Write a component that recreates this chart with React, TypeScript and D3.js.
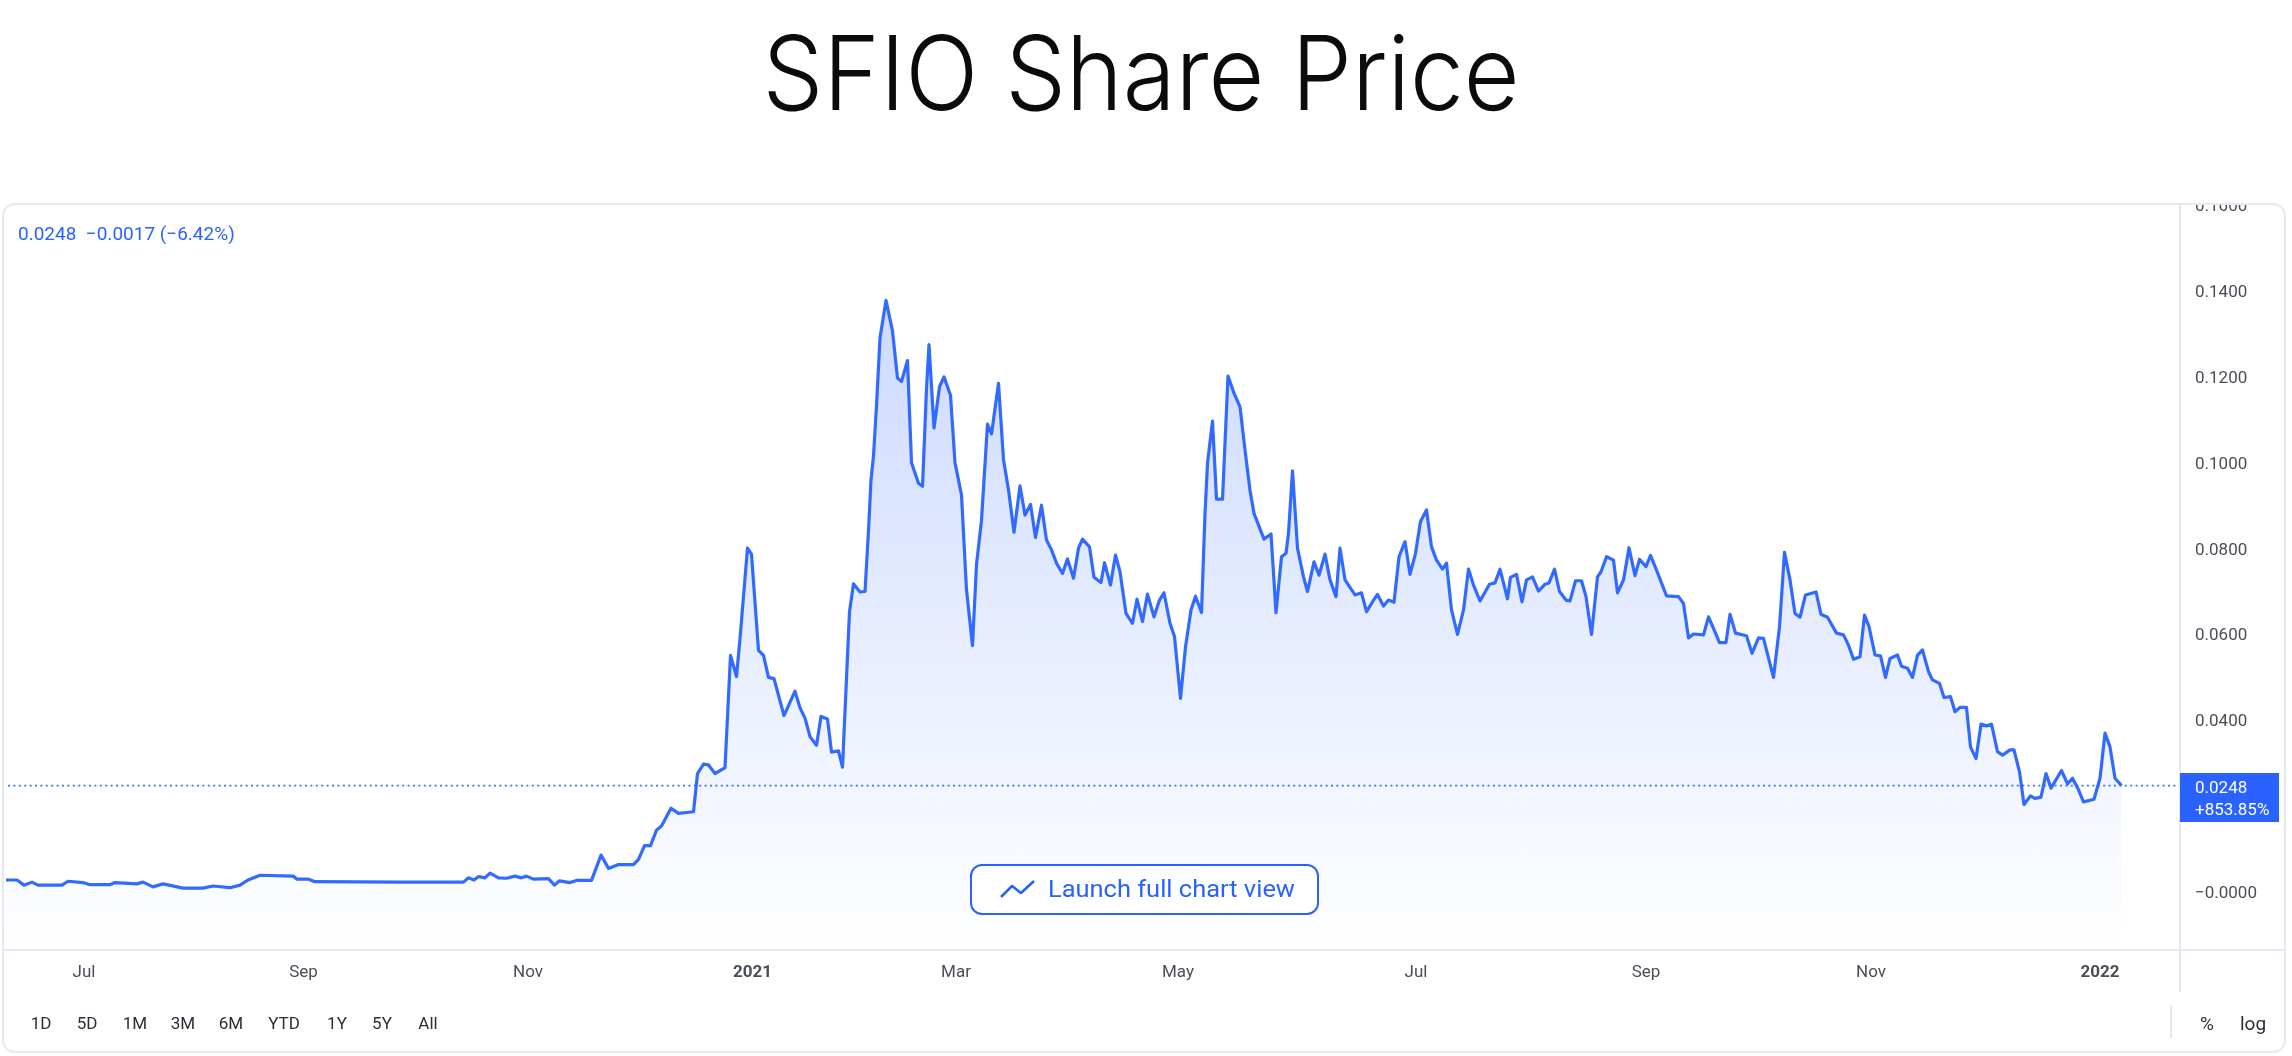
import * as d3 from 'd3'

// Time position of each reading, in chart steps along the axis
const times = [
  0, 2.2, 3.6, 5.2, 6.4, 11.2, 12.4, 15.4, 16.8, 20.8, 21.8, 26.2, 27.4, 29.4, 31.4, 35.4, 39.4, 41.4, 44.8, 46.8, 48.4, 50.8, 57.4, 58.2, 60.4, 61.8,
  78.8, 91.5, 92.5, 93.6, 94.5, 95.8, 96.8, 98.5, 100.1, 101.8, 103.1, 104.1, 105.5, 108.5, 109.7, 110.7, 112.8, 114.1, 117.1, 119, 120.5, 122.5, 125.5, 126.5, 127.7, 128.9, 130.1, 131.1, 133, 134.5, 137.5, 138.3, 139.5, 140.5, 141.8, 143.8,
  144.9, 146.1, 146.8, 148.3, 149.1, 150.5, 151.5, 152.5, 153.6, 155.6, 157.8, 158.8, 159.8, 160.8, 162.1, 163, 164.3, 165.1, 166.5, 167.3, 168.7, 169.5, 170.8, 171.8, 172.5, 173, 173.5, 174.1, 174.8, 176, 177.3, 178.3, 179.1, 180.3, 181.1, 182.5, 183.3, 184.1, 184.6, 185.6, 186.7, 187.6, 188.9, 189.8, 191.1, 192.1, 193.3, 194.1, 195.1, 196.3, 197.1, 198.5, 199.5, 200.5, 201.6, 202.8, 203.8, 204.9, 205.9, 207.1,
  208.1, 209.1, 210.1, 211.3, 212.3, 213.5, 214.5, 215.3, 216.7, 217.6, 219, 219.7, 220.9, 221.9, 222.8, 224, 225.3, 226.2, 227.3, 228.3, 229.6, 230.7, 231.6, 232.8, 233.7, 234.9, 235.9, 237, 237.9, 239.1, 239.8, 240.3, 241.3, 242.1, 243.3, 244.4, 245.6, 246.8, 247.8, 248.8, 249.6, 251.6, 253, 254, 255.1, 256, 256.5, 257.3, 258.3, 259.5, 260.3, 261.6, 262.6, 263.8, 264.8, 266, 266.8, 267.8, 269.8, 271.1, 272.1, 273.5, 274.3, 275.5, 276.5, 277.6, 278.6, 279.8, 280.8, 281.9, 282.9, 284.1, 285.1,
  286.1, 287.3, 288.1, 289.1, 290.3, 291.5, 292.5, 293.5, 294.8, 296.7, 297.8, 298.8, 300.3, 300.9, 302.1, 303.2, 304.1, 305.3, 306.5, 307.8, 308.6, 309.7, 310.7, 312, 312.8, 313.9, 315.1, 316, 317.1, 318.3, 319, 320.1, 321.5, 322.3, 323.5, 324.6, 325.8, 326.7, 328, 328.9, 330.1, 332.1, 334.5, 335.5, 336.5, 337.5, 339.5, 340.5, 341.5, 342.7, 344, 344.8, 345.9, 348.1, 349.2, 350.5, 351.5, 353.5, 354.7, 355.7, 356.8, 357.8, 358.8, 359.9, 362, 363,
  364.3, 366.1, 367.5, 368.5, 369.5, 370.8, 371.7, 372.6, 373.8, 374.9, 375.9, 376.8, 378.3, 379.1, 380.3, 381.3, 382.3, 383.3, 384.5, 385.3, 386.7, 387.6, 388.9, 389.8, 390.8, 392.1, 392.9, 394, 395, 396.1, 397.1, 398.3, 399.3, 400.8, 401.6, 402.7, 403.6, 404.5, 404.9, 405.8, 407, 408, 409, 411.1, 412.3, 413.3, 414.5, 415.5, 417.6, 418.8, 419.8, 420.8, 421.8, 423.1,
]

const prices = [
  0.0028, 0.0028, 0.0016, 0.0023, 0.0016, 0.0016, 0.0025, 0.0022, 0.0017, 0.0017, 0.0022, 0.0019, 0.0023, 0.0012, 0.0019, 0.0009, 0.0009, 0.0014, 0.001, 0.0016, 0.0028, 0.0039, 0.0037, 0.003, 0.003, 0.0024,
  0.0023, 0.0023, 0.0033, 0.0028, 0.0036, 0.0033, 0.0044, 0.0033, 0.0032, 0.0037, 0.0033, 0.0037, 0.003, 0.0031, 0.0016, 0.0026, 0.0022, 0.0027, 0.0027, 0.0086, 0.0055, 0.0064, 0.0064, 0.0076, 0.0108, 0.0108, 0.0144, 0.0154, 0.0195, 0.0183, 0.0187, 0.0276, 0.0298, 0.0296, 0.0276, 0.029,
  0.0551, 0.0502, 0.059, 0.0801, 0.0787, 0.0563, 0.0551, 0.05, 0.0497, 0.0411, 0.0468, 0.0429, 0.0405, 0.0362, 0.0342, 0.0409, 0.0403, 0.0326, 0.0329, 0.0291, 0.0653, 0.0718, 0.0699, 0.07, 0.0842, 0.096, 0.1016, 0.1133, 0.1291, 0.1378, 0.1307, 0.1197, 0.1189, 0.1238, 0.1, 0.0952, 0.0945, 0.1173, 0.1275, 0.1081, 0.1177, 0.12, 0.1157, 0.1, 0.0925, 0.0704, 0.0574, 0.0763, 0.0866, 0.109, 0.1067, 0.1185, 0.1007, 0.0937, 0.0838, 0.0946, 0.0878, 0.0903, 0.0826, 0.0901,
  0.082, 0.0797, 0.0766, 0.0742, 0.0776, 0.0731, 0.0801, 0.0822, 0.0804, 0.0733, 0.0721, 0.0767, 0.0715, 0.0785, 0.0746, 0.0649, 0.0626, 0.0682, 0.063, 0.0694, 0.0641, 0.068, 0.0697, 0.0626, 0.0595, 0.0451, 0.0571, 0.0657, 0.0689, 0.0651, 0.0882, 0.0999, 0.1097, 0.0915, 0.0915, 0.1202, 0.1162, 0.113, 0.103, 0.0936, 0.0882, 0.0822, 0.0834, 0.0651, 0.0781, 0.0789, 0.0836, 0.0981, 0.0801, 0.0734, 0.07, 0.0769, 0.0738, 0.0787, 0.0727, 0.0688, 0.0801, 0.0727, 0.0692, 0.0697, 0.0653, 0.068, 0.0693, 0.0666, 0.068, 0.0675, 0.0781, 0.0816, 0.074, 0.0789, 0.0863, 0.089, 0.0804,
  0.0773, 0.0752, 0.0766, 0.0657, 0.06, 0.0657, 0.0752, 0.0715, 0.0678, 0.0717, 0.072, 0.0752, 0.0683, 0.0733, 0.074, 0.0676, 0.0727, 0.0734, 0.0701, 0.0717, 0.072, 0.0752, 0.07, 0.068, 0.0678, 0.0725, 0.0725, 0.0688, 0.06, 0.0734, 0.0746, 0.0781, 0.0773, 0.0697, 0.0727, 0.0802, 0.0737, 0.0775, 0.0758, 0.0784, 0.075, 0.069, 0.0688, 0.0672, 0.0592, 0.0601, 0.0599, 0.0641, 0.0614, 0.0581, 0.0581, 0.0647, 0.0603, 0.0597, 0.0556, 0.0592, 0.0591, 0.05, 0.0618, 0.0791, 0.0727, 0.0649, 0.064, 0.0692, 0.0699, 0.0647,
  0.064, 0.0603, 0.0599, 0.0575, 0.0542, 0.0548, 0.0645, 0.0618, 0.0552, 0.055, 0.05, 0.0544, 0.0552, 0.0526, 0.0521, 0.05, 0.0552, 0.0564, 0.0513, 0.0494, 0.0486, 0.0453, 0.0455, 0.042, 0.043, 0.043, 0.0338, 0.0311, 0.0391, 0.0387, 0.0391, 0.0327, 0.0319, 0.0331, 0.0331, 0.028, 0.0204, 0.0218, 0.0224, 0.0218, 0.0221, 0.0276, 0.0242, 0.0283, 0.0252, 0.0265, 0.0238, 0.021, 0.0216, 0.0265, 0.037, 0.0338, 0.0265, 0.0248,
]

const lastPrice = 0.0248
const priceTicks = [0.16, 0.14, 0.12, 0.1, 0.08, 0.06, 0.04]
const timeTickLabels = ['Jul', 'Sep', 'Nov', '2021', 'Mar', 'May', 'Jul', 'Sep', 'Nov', '2022']
const timeTickSteps = [15.6, 59.5, 104.4, 149.3, 190, 234.4, 282, 328, 373, 418.8]
const rangeButtons = ['1D', '5D', '1M', '3M', '6M', 'YTD', '1Y', '5Y', 'All']

const width = 2292
const height = 1056
const cardLeft = 3
const cardTop = 204
const cardRight = 2285
const cardBottom = 1052
const axisX = 2180
const paneBottom = 950
const rangeButtonX = [41, 87, 135, 183, 231, 284, 337, 382, 428]

const blue = '#2962ff'
const border = '#e6e8f1'
const font = 'Roboto, sans-serif'

const x = d3.scaleLinear().domain([0, 424]).range([6, 2126])
const y = d3.scaleLinear().domain([0, 0.14]).range([892, 291])

const points = times.map((t, i) => [t, prices[i]] as [number, number])

const linePath = d3.line<[number, number]>()
  .x(d => x(d[0]))
  .y(d => y(d[1]))(points) as string

const areaPath = d3.area<[number, number]>()
  .x(d => x(d[0]))
  .y0(paneBottom)
  .y1(d => y(d[1]))(points) as string

export default function App() {
  return (
    <svg
      width={width}
      height={height}
      viewBox={`0 0 ${width} ${height}`}
      style={{ position: 'fixed', top: 0, left: 0, display: 'block', background: '#fff' }}
    >
      <defs>
        <linearGradient id="fade" gradientUnits="userSpaceOnUse" x1="0" y1="300" x2="0" y2={paneBottom}>
          <stop offset="0" stopColor={blue} stopOpacity={0.235} />
          <stop offset="1" stopColor={blue} stopOpacity={0} />
        </linearGradient>
        <clipPath id="axisClip">
          <rect x={axisX} y={cardTop + 1} width={cardRight - axisX} height={paneBottom - cardTop} />
        </clipPath>
        {/* the source is an upscaled screenshot, so its small marks are soft */}
        <filter id="soft" filterUnits="userSpaceOnUse" x="0" y="190" width={width} height={height - 190}>
          <feGaussianBlur stdDeviation="0.6" />
        </filter>
      </defs>

      <text
        x={1141}
        y={110}
        textAnchor="middle"
        fontFamily="Inter, sans-serif"
        fontWeight={300}
        fontSize={103}
        textLength={757}
        lengthAdjust="spacingAndGlyphs"
        fill="#0b0b0d"
      >
        SFIO Share Price
      </text>

      <rect
        x={cardLeft}
        y={cardTop}
        width={cardRight - cardLeft}
        height={cardBottom - cardTop}
        rx={12}
        fill="#fff"
        stroke={border}
        strokeWidth={2}
      />

      <path d={areaPath} fill="url(#fade)" />

      <g filter="url(#soft)">
        <line
          x1={8}
          x2={axisX}
          y1={y(lastPrice)}
          y2={y(lastPrice)}
          stroke={blue}
          strokeOpacity={0.9}
          strokeWidth={1.8}
          strokeDasharray="2 3.4"
        />
        <path d={linePath} fill="none" stroke={blue} strokeWidth={3.2} strokeLinejoin="round" strokeOpacity={0.95} />

        <text x={18} y={233} dominantBaseline="central" fontFamily={font} fontSize={19} fill={blue} xmlSpace="preserve">
          0.0248  −0.0017 (−6.42%)
        </text>

        <line x1={axisX} x2={axisX} y1={cardTop} y2={992} stroke={border} strokeWidth={2} />
        <line x1={cardLeft} x2={cardRight} y1={paneBottom} y2={paneBottom} stroke={border} strokeWidth={2} />

        <g clipPath="url(#axisClip)" fontFamily={font} fontSize={17} fill="#4a4e58">
          {priceTicks.map(t => (
            <text key={t} x={2195} y={y(t)} dominantBaseline="central">
              {t.toFixed(4)}
            </text>
          ))}
          <text x={2195} y={y(0)} dominantBaseline="central">−0.0000</text>
        </g>

        <rect x={axisX} y={773} width={99} height={49} fill={blue} />
        <g fontFamily={font} fontSize={17} fill="#fff">
          <text x={2195} y={787} dominantBaseline="central">{lastPrice.toFixed(4)}</text>
          <text x={2195} y={809} dominantBaseline="central">+853.85%</text>
        </g>

        <g fontFamily={font} fontSize={17} fill="#4a4e58" textAnchor="middle">
          {timeTickLabels.map((label, i) => (
            <text
              key={i}
              x={x(timeTickSteps[i])}
              y={971}
              dominantBaseline="central"
              fontWeight={label.length === 4 ? 700 : 400}
            >
              {label}
            </text>
          ))}
        </g>

        <g fontFamily={font} fontSize={17} fill="#2a2e39" textAnchor="middle">
          {rangeButtons.map((label, i) => (
            <text key={label} x={rangeButtonX[i]} y={1023} dominantBaseline="central">
              {label}
            </text>
          ))}
          <text x={2207} y={1023} dominantBaseline="central" fontSize={19}>%</text>
          <text x={2253} y={1023} dominantBaseline="central" fontSize={19}>log</text>
        </g>
        <line x1={2171} x2={2171} y1={1005} y2={1038} stroke={border} strokeWidth={2} />

        <rect x={971} y={865} width={347} height={49} rx={11} fill="#fff" stroke={blue} strokeWidth={2} />
        <path
          d="M1001 897 L1012 886 L1021 893 L1034 881"
          fill="none"
          stroke={blue}
          strokeWidth={2.6}
          strokeLinejoin="round"
        />
        <text
          x={1048}
          y={889}
          dominantBaseline="central"
          fontFamily={font}
          fontSize={23}
          textLength={247}
          lengthAdjust="spacingAndGlyphs"
          fill={blue}
        >
          Launch full chart view
        </text>
      </g>
    </svg>
  )
}
